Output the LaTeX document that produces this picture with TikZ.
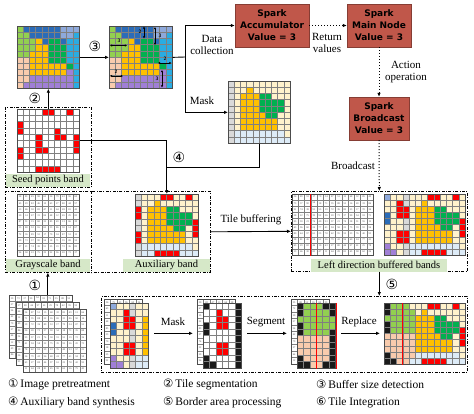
\documentclass[tikz,border=0pt]{standalone}
\usepackage{fontspec}
\setmainfont{Liberation Serif}
\newfontfamily\symfam{DejaVu Sans}
\newfontfamily\sparkfam{DejaVu Sans}
\usetikzlibrary{arrows.meta,positioning}

\definecolor{colB}{HTML}{2B6CB8}
\definecolor{colP}{HTML}{8EA9DB}
\definecolor{colS}{HTML}{2AACE2}
\definecolor{colL}{HTML}{92D050}
\definecolor{colG}{HTML}{00B050}
\definecolor{colY}{HTML}{FFC000}
\definecolor{colK}{HTML}{F8CBAD}
\definecolor{colV}{HTML}{A07FD6}
\definecolor{colR}{HTML}{FF0000}
\definecolor{colC}{HTML}{FFF2CC}
\definecolor{colD}{HTML}{DDEBF7}
\definecolor{colE}{HTML}{D9D9D9}
\definecolor{colW}{HTML}{FFFFFF}
\definecolor{colX}{HTML}{1A1A1A}
\definecolor{sparkred}{HTML}{C0574A}
\definecolor{bandgreen}{HTML}{D6E8C8}
\definecolor{gridline}{HTML}{808080}

\tikzset{
  cell/.style={draw=gridline, line width=0.3pt},
  gridframe/.style={draw=black!70, line width=0.7pt, inner sep=0pt, anchor=north west},
  numtext/.style={font=\fontsize{2.6}{2.6}\selectfont, text=black!70, inner sep=0pt},
  spark/.style={draw=sparkred!70!black, fill=sparkred, align=center, inner sep=1pt,
    font=\sparkfam\bfseries\fontsize{9}{12}\selectfont},
  bandbox/.style={draw, line width=0.6pt, dash pattern=on 3pt off 1.5pt on 0.8pt off 1.5pt,
    inner sep=0pt, anchor=north west},
  bandlabel/.style={fill=bandgreen, inner sep=0pt, minimum height=13pt,
    font=\fontsize{10.5}{11}\selectfont},
  txt/.style={font=\fontsize{11}{12}\selectfont, align=center, inner sep=1pt},
  stepnum/.style={font=\symfam\fontsize{14}{14}\selectfont, inner sep=0pt},
  legend/.style={font=\fontsize{11.5}{12}\selectfont, anchor=west, inner sep=0pt},
  line/.style={line width=0.9pt},
  conn/.style={line width=0.9pt, -{Latex[length=4pt,width=3.5pt]}},
  dotconn/.style={line width=1pt, dotted, -{Latex[length=4pt,width=3.5pt]}},
  measure/.style={line width=0.7pt, {Latex[length=2.2pt,width=2.5pt]}-{Latex[length=2.2pt,width=2.5pt]}},
  measnum/.style={font=\sffamily\bfseries\fontsize{5}{5}\selectfont, inner sep=0pt},
  redline/.style={draw=colR, line width=0.7pt}
}

% coloured tile: name, x, y, cols, rows, cell w, cell h, rows of colour letters
\newcommand{\colgrid}[8]{%
  \foreach \row [count=\r from 0] in {#8} {
    \foreach \c [count=\k from 0] in \row {
      \filldraw[cell, fill=col\c] ({#2+\k*#6},{#3+\r*#7}) rectangle ++(#6,#7);
    }
  }
  \node[gridframe, minimum width=#4*#6pt, minimum height=#5*#7pt] (#1) at (#2,#3) {};
}

% grayscale tile with pixel values: name, x, y, cols, rows, cell w, cell h
\newcommand{\numgrid}[7]{%
  \fill[white] (#2,#3) rectangle ++({#4*#6},{#5*#7});
  \foreach \r in {1,...,#5} {
    \foreach \k in {1,...,#4} {
      \pgfmathtruncatemacro{\cellval}{mod(\r*37+\k*53+#2,89)+10}
      \draw[cell] ({#2+(\k-1)*#6},{#3+(\r-1)*#7}) rectangle ++(#6,#7);
      \node[numtext] at ({#2+(\k-0.5)*#6},{#3+(\r-0.5)*#7}) {\cellval};
    }
  }
  \node[gridframe, minimum width=#4*#6pt, minimum height=#5*#7pt] (#1) at (#2,#3) {};
}

\begin{document}
\begin{tikzpicture}[x=1pt,y=-1pt]
\useasboundingbox (0,0) rectangle (474,413);

% boxes
\node[bandbox, minimum width=86, minimum height=80] (seedbox) at (5,107) {};
\node[bandbox, minimum width=205, minimum height=81] (bandbox) at (5,191) {};
\draw[line width=0.6pt, dash pattern=on 3pt off 1.5pt on 0.8pt off 1.5pt]
  (seedbox.east |- bandbox.north) -- (seedbox.east |- bandbox.south);
\node[bandbox, minimum width=176, minimum height=80] (bufbox) at (291,191) {};
\node[bandbox, minimum width=366, minimum height=76] (tilebox) at (101,296) {};

% top row
\colgrid{regions}{17}{26}{10}{10}{6.2}{6.2}{
  {L,B,B,B,B,B,B,P,P,P},{L,L,B,B,B,B,B,P,P,S},{L,L,L,Y,B,G,G,B,S,S},
  {L,L,L,Y,Y,G,G,G,S,S},{L,L,Y,Y,Y,G,G,G,S,S},{K,K,Y,Y,Y,G,G,G,S,S},
  {K,K,Y,Y,Y,Y,Y,Y,G,S},{K,K,Y,Y,Y,Y,Y,Y,V,S},{K,K,V,V,V,V,V,V,V,S},
  {K,V,V,V,V,V,V,V,V,S}}
\colgrid{buffers}{109}{26}{10}{10}{6.3}{6.2}{
  {L,B,B,B,B,B,B,P,P,P},{L,L,B,B,B,B,B,P,P,S},{L,L,L,Y,B,G,G,B,S,S},
  {L,L,L,Y,Y,G,G,G,S,S},{L,L,Y,Y,Y,G,G,G,S,S},{K,K,Y,Y,Y,G,G,G,S,S},
  {K,K,Y,Y,Y,Y,Y,Y,G,S},{K,K,Y,Y,Y,Y,Y,Y,V,S},{K,K,V,V,V,V,V,V,V,S},
  {K,V,V,V,V,V,V,V,V,S}}
% buffer sizes
\draw[measure] (144,26.5) -- (144,38.5);
\node[measnum] (bs1) at (140,32) {2};
\draw[measure] (155,27) -- (155,45);
\node[measnum] (bs2) at (160,36) {3};
\draw[measure] (110,45.5) -- (127,45.5);
\node[measnum] (bs3) at (119,41) {3};
\draw[measure] (158,63) -- (171.5,63);
\node[measnum] (bs4) at (165,59) {2};
\draw[measure] (110,76) -- (123,76);
\node[measnum] (bs5) at (116,72) {2};
\draw[measure] (162,70) -- (162,87.5);
\node[measnum] (bs6) at (157,79) {3};

\colgrid{maskgrid}{228}{81}{10}{10}{6.2}{6.2}{
  {E,C,C,C,C,C,C,C,C,C},{E,C,C,Y,C,C,C,C,C,C},{E,C,Y,Y,Y,G,G,C,C,C},
  {E,C,Y,Y,Y,G,G,G,G,C},{E,C,Y,Y,Y,G,G,G,G,C},{E,C,Y,Y,Y,Y,G,G,C,C},
  {E,C,Y,Y,Y,Y,Y,Y,C,C},{E,C,Y,Y,Y,Y,Y,Y,C,C},{E,D,D,D,D,D,D,D,D,C},
  {E,D,D,D,D,D,D,D,D,D}}

\node[spark, minimum width=74, minimum height=43] (accum) at (272,25.5) {Spark\\Accumulator\\Value = 3};
\node[spark, minimum width=64, minimum height=43] (mainnode) at (379,25.5) {Spark\\Main Node\\Value = 3};
\node[spark, minimum width=60, minimum height=43] (bcast) at (379,118.5) {Spark\\Broadcast\\Value = 3};

% seed points, grayscale and auxiliary bands
\colgrid{seeds}{17}{109}{10}{10}{6.2}{6.3}{
  {W,W,W,W,R,R,W,W,R,W},{W,W,W,W,W,W,W,W,W,W},{R,W,W,W,W,W,W,W,W,W},
  {R,W,W,W,W,W,R,W,W,W},{W,W,W,R,W,W,R,R,W,R},{W,W,W,R,W,W,W,W,W,R},
  {R,W,W,R,R,W,W,W,W,R},{R,W,W,W,W,W,W,W,W,W},{W,W,W,W,W,W,W,W,W,W},
  {W,W,W,R,R,R,R,W,W,W}}
\node[bandlabel, minimum width=84] (seedlabel) at (48,180) {Seed points band};

\numgrid{gray}{17}{194}{10}{10}{6.2}{6.2}
\node[bandlabel, minimum width=84] (graylabel) at (48,265) {Grayscale band};

\colgrid{aux}{135}{194}{10}{10}{6.3}{6.2}{
  {E,C,C,C,R,R,C,C,R,C},{E,C,C,Y,C,C,C,C,C,C},{R,C,Y,Y,Y,G,G,C,C,C},
  {R,C,Y,Y,Y,G,G,G,G,C},{E,C,Y,Y,Y,G,G,G,G,R},{E,C,Y,Y,Y,Y,G,G,C,R},
  {R,C,Y,Y,Y,Y,Y,Y,C,R},{R,C,Y,Y,Y,Y,Y,Y,C,C},{E,D,D,D,D,D,D,D,D,C},
  {E,D,D,R,R,R,R,D,D,D}}
\node[bandlabel, minimum width=87] (auxlabel) at (166.5,265) {Auxiliary band};

% left direction buffered bands
\numgrid{graybuf}{292}{194}{13}{10}{6.23}{6.1}
\draw[redline] ([xshift=18.7pt]graybuf.north west) -- ([xshift=18.7pt]graybuf.south west);
\colgrid{auxbuf}{384}{194}{13}{10}{6.23}{6.1}{
  {P,C,C,E,C,C,C,R,R,C,C,R,C},{C,C,R,E,C,C,Y,C,C,C,C,C,C},{C,C,R,R,C,Y,Y,Y,G,G,C,C,C},
  {B,C,R,R,C,Y,Y,Y,G,G,G,G,C},{B,C,C,E,C,Y,Y,Y,G,G,G,G,R},{C,C,C,E,C,Y,Y,Y,Y,G,G,C,R},
  {C,C,R,R,C,Y,Y,Y,Y,Y,Y,C,R},{C,C,R,R,C,Y,Y,Y,Y,Y,Y,C,C},{V,C,C,E,D,D,D,D,D,D,D,D,C},
  {V,V,C,E,D,D,R,R,R,R,D,D,D}}
\node[bandlabel, minimum width=136] (buflabel) at (379,265) {Left direction buffered bands};

% image stack
\numgrid{stackA}{9}{295}{10}{10}{6.3}{6.3}
\numgrid{stackB}{16}{302}{10}{10}{6.3}{6.3}
\numgrid{stackC}{23}{309}{10}{10}{6.3}{6.3}

% border area processing
\numgrid{tileAback}{104}{299}{6}{10}{6.4}{6.5}
\colgrid{tileA}{110}{303}{6}{10}{6.4}{6.5}{
  {P,C,C,E,C,C},{C,C,R,E,C,C},{C,C,R,R,C,Y},{B,C,R,R,C,Y},{B,C,C,E,C,Y},
  {C,C,C,E,C,Y},{C,C,R,R,C,Y},{C,C,R,R,C,Y},{V,C,C,E,D,D},{V,V,C,E,D,D}}
\numgrid{tileBback}{197}{299}{6}{10}{6.4}{6.5}
\colgrid{tileB}{203}{303}{6}{10}{6.4}{6.5}{
  {X,W,W,W,W,X},{W,W,R,W,W,X},{W,W,R,R,W,X},{X,W,R,R,W,X},{X,W,W,W,W,X},
  {W,W,W,W,W,X},{W,W,R,R,W,X},{W,W,R,R,W,X},{X,W,W,W,W,X},{X,X,W,W,W,X}}
\numgrid{tileCback}{291}{299}{6}{10}{6.4}{6.5}
\colgrid{tileC}{297}{303}{6}{10}{6.4}{6.5}{
  {X,L,L,L,X,X},{X,L,L,L,L,X},{L,L,L,L,L,L},{X,L,L,L,L,L},{X,L,L,L,L,X},
  {K,K,K,K,K,X},{K,K,K,K,K,X},{K,K,K,K,K,X},{X,K,K,K,K,X},{X,X,K,K,X,X}}
\draw[redline] ([xshift=19.2pt]tileC.north west) -- ([xshift=19.2pt]tileC.south west);
\draw[redline] (tileC.north east) -- (tileC.south east);
\colgrid{result}{384}{303}{13}{10}{6.23}{6.1}{
  {X,L,L,L,C,C,C,R,R,C,C,R,C},{X,L,L,L,L,C,Y,C,C,C,C,C,C},{L,L,L,L,L,Y,Y,Y,G,G,C,C,C},
  {X,L,L,L,L,Y,Y,Y,G,G,G,G,C},{X,L,L,L,L,Y,Y,Y,G,G,G,G,R},{K,K,K,K,K,Y,Y,Y,Y,G,G,C,R},
  {K,K,K,K,K,Y,Y,Y,Y,Y,Y,C,R},{K,K,K,K,K,Y,Y,Y,Y,Y,Y,C,C},{X,K,K,K,K,D,D,D,D,D,D,D,C},
  {X,X,K,K,D,D,R,R,R,R,D,D,D}}
\draw[redline] ([xshift=18.7pt]result.north west) -- ([xshift=18.7pt]result.south west);

% connectors
\draw[conn] (regions.east) -- (buffers.east -| buffers.west);
\node[stepnum] (num3) at (95,46) {③};
\coordinate (split) at (185,57);
\draw[line] (buffers.east) -- (split);
\draw[conn] (split) |- (accum.west);
\draw[conn] (split) |- (maskgrid.west);
\node[txt] (datalbl) at (212,44.5) {Data\\collection};
\node[txt] (masklbl) at (202,101) {Mask};

\draw[dotconn] (accum.east) -- (mainnode.west);
\node[txt] (returnlbl) at (327,43) {Return\\values};
\draw[dotconn] (mainnode.south) -- (bcast.north);
\node[txt] (actionlbl) at (406,72.5) {Action\\operation};
\draw[dotconn] (bcast.south) -- (bufbox.north);
\node[txt] (bcastlbl) at (353,166) {Broadcast};

\draw[conn] (seeds.north) -- (regions.south);
\node[stepnum] (num2) at (35,98) {②};
\draw[conn] (seeds.east) -| (aux.north);
\node[stepnum] (num4) at (179,157) {④};
\coordinate (join) at (aux.north |- 0,167);
\draw[line] (maskgrid.south) |- (join);

\draw[conn] (bandbox.east) -- (bufbox.west);
\node[txt] (tilebuflbl) at (251,220) {Tile buffering};

\draw[conn] (stackB.north |- stackA.north) -- (stackB.north |- bandbox.south);
\node[stepnum] (num1) at (35,285) {①};
\draw[conn] (bufbox.south) -- (tilebox.north -| bufbox.south);
\node[stepnum] (num5) at (392,284) {⑤};

\draw[conn] ([shift={(5,-2.5)}]tileA.east) -- ([shift={(-4,-2.5)}]tileA.east -| tileBback.west);
\node[txt] (maskstep) at (173,322) {Mask};
\draw[conn] ([shift={(5,-2.5)}]tileB.east) -- ([shift={(-4,-2.5)}]tileB.east -| tileCback.west);
\node[txt] (segstep) at (266,322) {Segment};
\draw[conn] ([shift={(5,-2.5)}]tileC.east) -- ([shift={(-4,-2.5)}]tileC.east -| result.west);
\node[txt] (replstep) at (359,322) {Replace};

% legend
\node[legend] (leg1) at (8,384) {{\symfam ①}\,Image pretreatment};
\node[legend] (leg2) at (163,384) {{\symfam ②}\,Tile segmentation};
\node[legend] (leg3) at (316,384) {{\symfam ③}\,Buffer size detection};
\node[legend] (leg4) at (8,402) {{\symfam ④}\,Auxiliary band synthesis};
\node[legend] (leg5) at (163,402) {{\symfam ⑤}\,Border area processing};
\node[legend] (leg6) at (316,402) {{\symfam ⑥}\,Tile Integration};
\end{tikzpicture}
\end{document}
